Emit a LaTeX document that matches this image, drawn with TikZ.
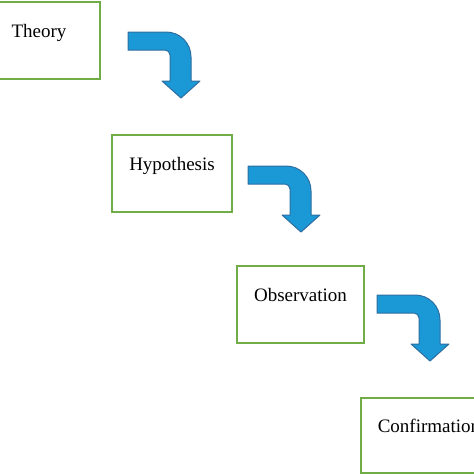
\documentclass[tikz,border=0pt]{standalone}
\usepackage{fontspec}
\setmainfont{Liberation Serif}

\definecolor{boxgreen}{RGB}{112,173,71}
\definecolor{arrowfill}{RGB}{27,152,214}
\definecolor{arrowline}{RGB}{46,110,160}

\tikzset{
	stage/.style={draw=boxgreen, line width=2pt, fill=white, anchor=north west,
		minimum height=77pt, inner sep=0pt, text height=13pt, text depth=19pt,
		font=\fontsize{19}{23}\selectfont},
	bentarrow/.pic={
		\filldraw[fill=arrowfill, draw=arrowline, line width=1pt, line join=round]
			(0,0) -- (38,0) .. controls (52,0) and (63,11) .. (63,25) -- (63,49)
			-- (72,49) -- (53,66) -- (34,49) -- (42,49) -- (42,23)
			.. controls (42,20.2) and (39.8,18) .. (37,18) -- (0,18) -- cycle;
	}
}

\begin{document}
\begin{tikzpicture}[x=1pt, y=-1pt]

	\useasboundingbox (0,0) rectangle (474,474);
	\clip (0,0) rectangle (474,474);

	\node[stage, minimum width=122pt] at (-23,1) (theory) {Theory};
	\node[stage, minimum width=120pt] at (111,134) (hypo) {Hypothesis};
	\node[stage, minimum width=127pt] at (236,265) (obs) {Observation};
	\node[stage, minimum width=136pt, minimum height=75pt] at (360,397) (conf) {Confirmation};

	\pic at (128,32) {bentarrow};
	\pic at (248,166) {bentarrow};
	\pic at (377,295) {bentarrow};

\end{tikzpicture}
\end{document}
